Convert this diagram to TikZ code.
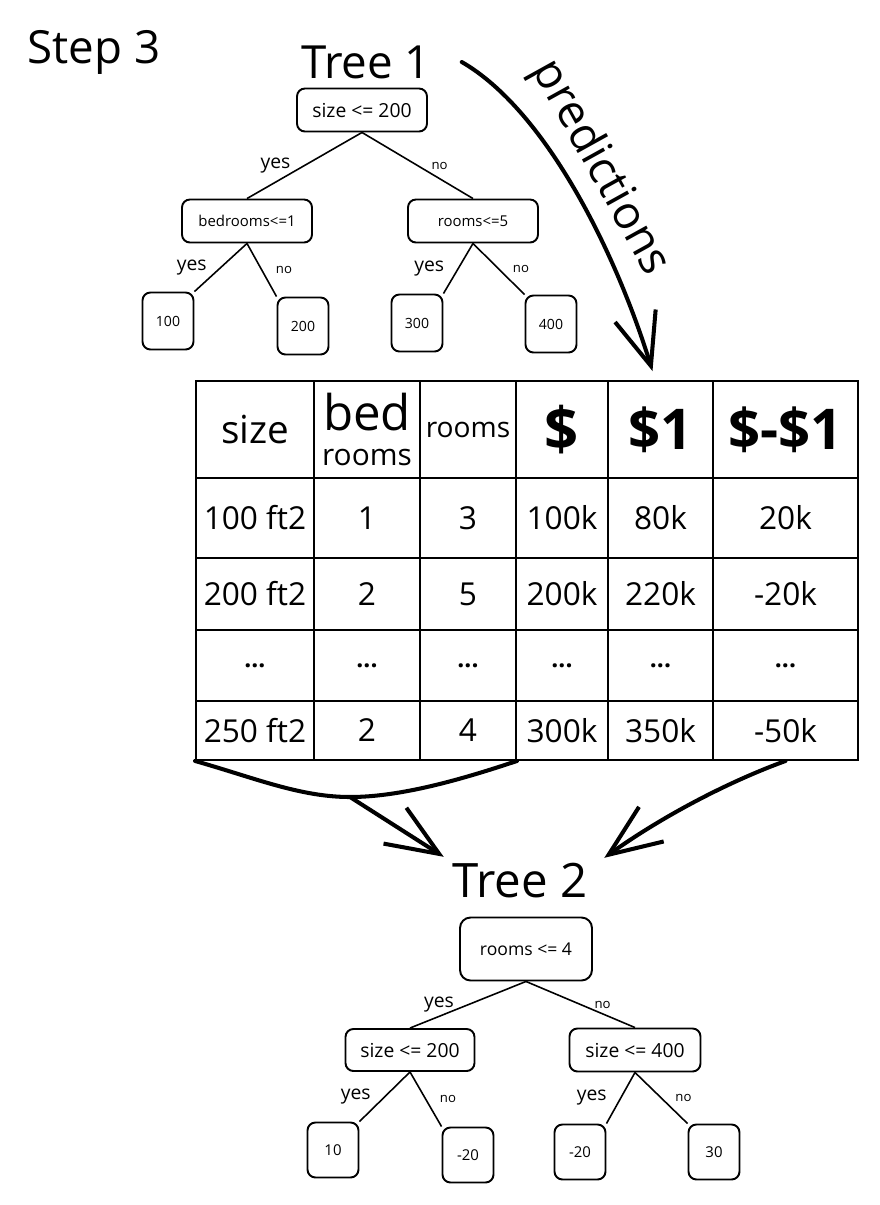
\documentclass[tikz,border=0pt]{standalone}
\usepackage{fontspec}
\setmainfont{Open Sans}
\usetikzlibrary{arrows.meta}
\newcommand{\fsz}[2]{\fontsize{#1}{#2}\selectfont}

\begin{document}
\begin{tikzpicture}[x=0.02cm, y=-0.02cm, line width=0.9pt,
		title/.style={font=\fsz{26}{30}, inner sep=0pt},
		split/.style={draw, line width=1.1pt, rounded corners=4.5pt, minimum width=2.6cm, minimum height=0.86cm, inner sep=1pt},
		leaf/.style={draw, line width=1.1pt, rounded corners=4.5pt, minimum width=1.02cm, minimum height=1.14cm, inner sep=1pt, font=\fsz{8}{10}},
		yeslabel/.style={midway, left=1.5mm, font=\fsz{11}{13}},
		nolabel/.style={midway, right=1.5mm, font=\fsz{7.5}{9}},
		cell/.style={draw, line width=1.1pt, inner sep=0pt, align=center, font=\fsz{18}{22}},
		bigarrow/.style={line width=2.3pt, line cap=round, -{Straight Barb[length=10.5mm, width=8.5mm]}}]
	\useasboundingbox (0,0) rectangle (880,1205);

	\node[title] (step) at (94,52) {Step 3};
	\node[title] (tree1) at (366,62) {Tree 1};
	\node[title, rotate=-61] (pred) at (600,168) {predictions};

	\node[split, font=\fsz{11}{13}] (r1) at (362,110) {size <= 200};
	\node[split, font=\fsz{8.5}{10}] (b1) at (247,221) {bedrooms<=1};
	\node[split, font=\fsz{8.5}{10}] (m1) at (473,221) {rooms<=5};
	\node[leaf] (l1) at (168,321) {100};
	\node[leaf] (l2) at (303,326) {200};
	\node[leaf] (l3) at (417,323) {300};
	\node[leaf] (l4) at (551,324) {400};
	\draw (r1.south) -- (b1.north) node[yeslabel] {yes};
	\draw (r1.south) -- (m1.north) node[nolabel] {no};
	\draw (b1.south) -- (l1.north east) node[yeslabel] {yes};
	\draw (b1.south) -- (l2.north west) node[nolabel] {no};
	\draw (m1.south) -- (l3.north east) node[yeslabel] {yes};
	\draw (m1.south) -- (l4.north west) node[nolabel] {no};

	\node[cell, minimum width=2.36cm, minimum height=1.94cm, font=\fsz{22}{24}] (h1) at (255,429.5) {size};
	\node[cell, minimum width=2.12cm, minimum height=1.94cm, font=\fsz{17}{20}] (h2) at (367,429.5) {{\fsz{28}{20}bed}\\rooms};
	\node[cell, minimum width=1.92cm, minimum height=1.94cm, font=\fsz{16}{18}] (h3) at (468,429.5) {rooms};
	\node[cell, minimum width=1.84cm, minimum height=1.94cm, font=\fsz{34}{36}\bfseries] (h4) at (562,429.5) {\$};
	\node[cell, minimum width=2.10cm, minimum height=1.94cm, font=\fsz{32}{36}\bfseries] (h5) at (660.5,429.5) {\$1};
	\node[cell, minimum width=2.90cm, minimum height=1.94cm, font=\fsz{32}{36}\bfseries] (h6) at (785.5,429.5) {\$-\$1};
	\foreach \cx/\cw/\ra/\rb/\rd [count=\i] in {
			255/2.36/100 ft2/200 ft2/250 ft2,
			367/2.12/1/2/2,
			468/1.92/3/5/4,
			562/1.84/100k/200k/300k,
			660.5/2.10/80k/220k/350k,
			785.5/2.90/20k/-20k/-50k} {
		\node[cell, minimum width=\cw cm, minimum height=1.60cm] (a\i) at (\cx,518) {\ra};
		\node[cell, minimum width=\cw cm, minimum height=1.44cm] (b\i) at (\cx,594) {\rb};
		\node[cell, minimum width=\cw cm, minimum height=1.42cm, font=\fsz{14}{16}\bfseries] (c\i) at (\cx,665.5) {...};
		\node[cell, minimum width=\cw cm, minimum height=1.18cm] (d\i) at (\cx,730.5) {\rd};
	}

	\draw[bigarrow] ([xshift=0.6cm]tree1.east) .. controls (545,110) and (615,250) .. ([shift={(-8,-9)}]h5.north);

	\node[title, font=\fsz{27}{30}] (tree2) at (520,881) {Tree 2};
	\coordinate (brace) at (350,797);
	\draw[line width=2.3pt, line cap=round] (d1.south west) .. controls (255,778) and (300,797) .. (brace) .. controls (400,797) and (460,780) .. (d3.south east);
	\draw[bigarrow] (brace) -- ([shift={(-8,-6)}]tree2.north west);
	\draw[bigarrow] (d6.south) .. controls (725,783) and (660,818) .. ([shift={(16,-5)}]tree2.north east);

	\node[split, minimum width=2.64cm, minimum height=1.26cm, rounded corners=6pt, font=\fsz{10}{12}] (r2) at (526,949) {rooms <= 4};
	\node[split, minimum width=2.58cm, minimum height=0.84cm, font=\fsz{11}{13}] (s2) at (410,1050) {size <= 200};
	\node[split, minimum width=2.62cm, minimum height=0.86cm, font=\fsz{11}{13}] (t2) at (635,1050) {size <= 400};
	\node[leaf, minimum height=1.1cm, font=\fsz{8.5}{10}] (k1) at (333,1150) {10};
	\node[leaf, minimum height=1.1cm, font=\fsz{8.5}{10}] (k2) at (468,1155) {-20};
	\node[leaf, minimum height=1.1cm, font=\fsz{8.5}{10}] (k3) at (580,1152) {-20};
	\node[leaf, minimum height=1.1cm, font=\fsz{8.5}{10}] (k4) at (714,1152) {30};
	\draw (r2.south) -- (s2.north) node[yeslabel] {yes};
	\draw (r2.south) -- (t2.north) node[nolabel] {no};
	\draw (s2.south) -- (k1.north east) node[yeslabel] {yes};
	\draw (s2.south) -- (k2.north west) node[nolabel] {no};
	\draw (t2.south) -- (k3.north east) node[yeslabel] {yes};
	\draw (t2.south) -- (k4.north west) node[nolabel] {no};
\end{tikzpicture}
\end{document}
